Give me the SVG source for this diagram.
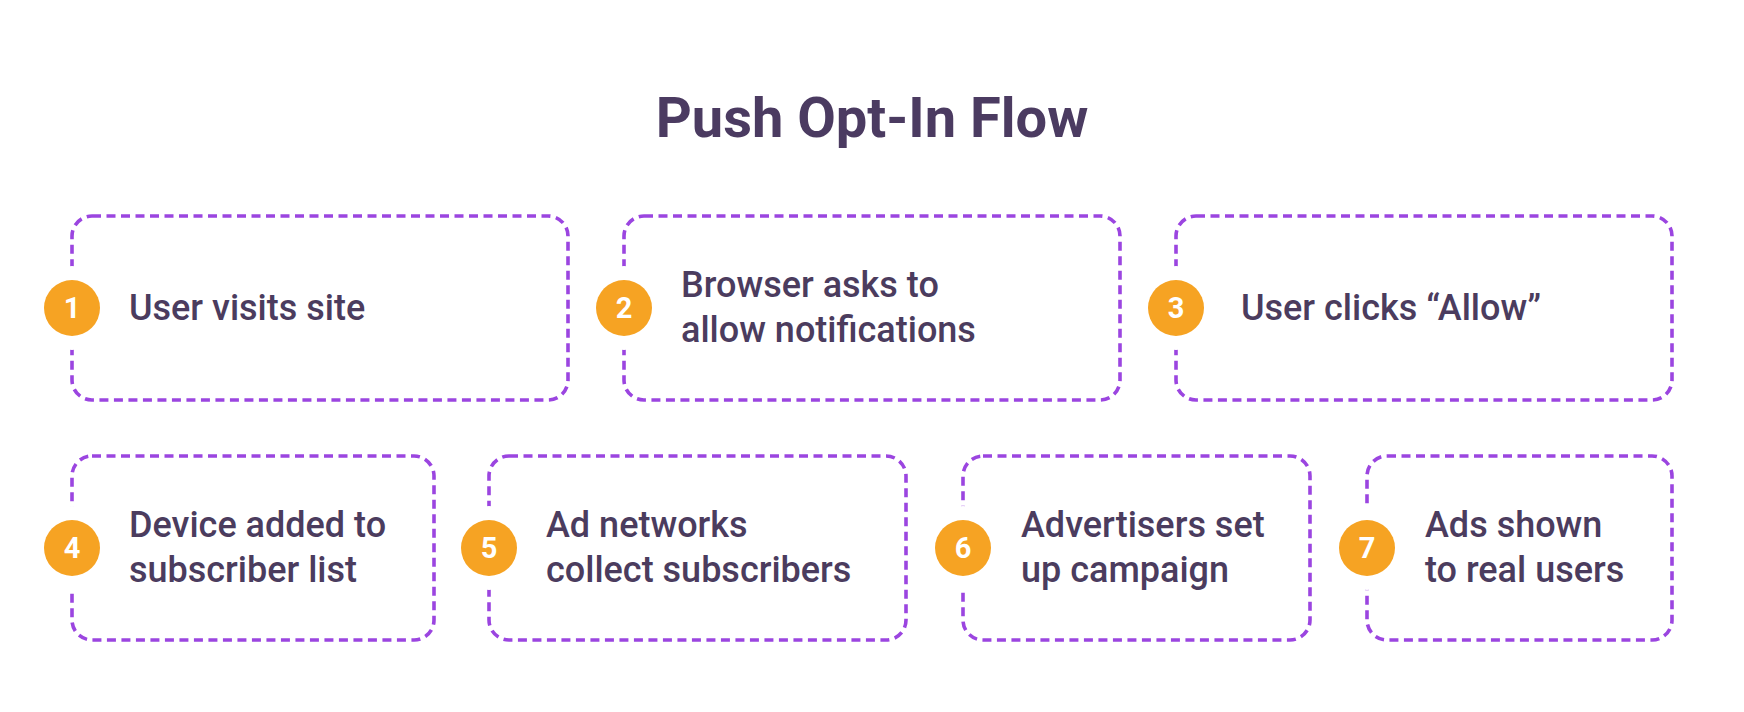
<svg xmlns="http://www.w3.org/2000/svg" width="1744" height="712" viewBox="0 0 1744 712">
<style>
.box{fill:#ffffff;stroke:#9b45e0;stroke-width:3.6;stroke-dasharray:9 5.5}
.halo{fill:#ffffff}
.dot{fill:#f6a323}
.num{font-family:Roboto,"Liberation Sans",sans-serif;font-weight:700;font-size:29px;fill:#ffffff;text-anchor:middle}
.lbl{font-family:Roboto,"Liberation Sans",sans-serif;font-weight:500;font-size:36px;fill:#4b3c5e}
.title{font-family:Roboto,"Liberation Sans",sans-serif;font-weight:700;font-size:56px;fill:#4b3b61;text-anchor:middle}
</style>
<rect width="1744" height="712" fill="#ffffff"/>
<text class="title" x="872" y="137">Push Opt-In Flow</text>
<g id="connectors"></g>
<g id="step1">
<rect class="box" x="72" y="216" width="496" height="184" rx="20"/>
<circle class="halo" cx="72" cy="308" r="42"/>
<circle class="dot" cx="72" cy="308" r="28"/>
<text class="num" x="72" y="318">1</text>
<text class="lbl" x="129" y="320">User visits site</text>
</g>
<g id="step2">
<rect class="box" x="624" y="216" width="496" height="184" rx="20"/>
<circle class="halo" cx="624" cy="308" r="42"/>
<circle class="dot" cx="624" cy="308" r="28"/>
<text class="num" x="624" y="318">2</text>
<text class="lbl" x="681" y="297">Browser asks to</text>
<text class="lbl" x="681" y="342">allow notifications</text>
</g>
<g id="step3">
<rect class="box" x="1176" y="216" width="496" height="184" rx="20"/>
<circle class="halo" cx="1176" cy="308" r="42"/>
<circle class="dot" cx="1176" cy="308" r="28"/>
<text class="num" x="1176" y="318">3</text>
<text class="lbl" x="1241" y="320">User clicks “Allow”</text>
</g>
<g id="step4">
<rect class="box" x="72" y="456" width="362" height="184" rx="20"/>
<circle class="halo" cx="72" cy="548" r="42"/>
<circle class="dot" cx="72" cy="548" r="28"/>
<text class="num" x="72" y="558">4</text>
<text class="lbl" x="129" y="537">Device added to</text>
<text class="lbl" x="129" y="582">subscriber list</text>
</g>
<g id="step5">
<rect class="box" x="489" y="456" width="417" height="184" rx="20"/>
<circle class="halo" cx="489" cy="548" r="42"/>
<circle class="dot" cx="489" cy="548" r="28"/>
<text class="num" x="489" y="558">5</text>
<text class="lbl" x="546" y="537">Ad networks</text>
<text class="lbl" x="546" y="582">collect subscribers</text>
</g>
<g id="step6">
<rect class="box" x="963" y="456" width="347" height="184" rx="20"/>
<circle class="halo" cx="963" cy="548" r="42"/>
<circle class="dot" cx="963" cy="548" r="28"/>
<text class="num" x="963" y="558">6</text>
<text class="lbl" x="1021" y="537">Advertisers set</text>
<text class="lbl" x="1021" y="582">up campaign</text>
</g>
<g id="step7">
<rect class="box" x="1367" y="456" width="305" height="184" rx="20"/>
<circle class="halo" cx="1367" cy="548" r="42"/>
<circle class="dot" cx="1367" cy="548" r="28"/>
<text class="num" x="1367" y="558">7</text>
<text class="lbl" x="1425" y="537">Ads shown</text>
<text class="lbl" x="1425" y="582">to real users</text>
</g>
</svg>
